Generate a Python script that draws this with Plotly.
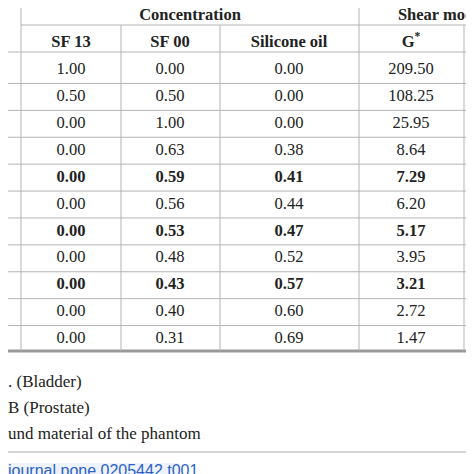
import plotly.graph_objects as go

# table data
columns = ["SF 13", "SF 00", "Silicone oil", "G<sup>*</sup>"]
sf13 = ["1.00", "0.50", "0.00", "0.00", "0.00", "0.00", "0.00", "0.00", "0.00", "0.00", "0.00"]
sf00 = ["0.00", "0.50", "1.00", "0.63", "0.59", "0.56", "0.53", "0.48", "0.43", "0.40", "0.31"]
oil = ["0.00", "0.00", "0.00", "0.38", "0.41", "0.44", "0.47", "0.52", "0.57", "0.60", "0.69"]
g_star = ["209.50", "108.25", "25.95", "8.64", "7.29", "6.20", "5.17", "3.95", "3.21", "2.72", "1.47"]
bold_rows = [4, 6, 8]
footnotes = [". (Bladder)", "B (Prostate)", "und material of the phantom"]
link = "journal.pone.0205442.t001"

SERIF = "Liberation Serif"
GRID = "#b4b4b4"
col_x = [63, 162, 281, 403]
vlines = [13, 113, 212, 351, 456]
row_y0, row_dy = 62, 26.9
table_bottom = 343

fig = go.Figure()
shapes = []


def hline(y, x0=0, x1=474, w=1, c=GRID):
    shapes.append(dict(type="line", x0=x0, x1=x1, y0=y, y1=y, line=dict(color=c, width=w)))


hline(17, x0=13)
hline(44)
for i in range(len(sf13) - 1):
    hline(row_y0 + row_dy * (i + 0.5))
hline(table_bottom, w=3, c="#999999")
hline(444, w=1.2, c="#aaaaaa")
for vx in vlines:
    y0 = 17 if vx in (113, 212, 456) else -5
    shapes.append(dict(type="line", x0=vx, x1=vx, y0=y0, y1=table_bottom,
                       line=dict(color=GRID, width=1)))

font = dict(family=SERIF, size=16.5, color="#222")
fig.add_trace(go.Scatter(x=[182, 428], y=[8, 8], mode="text", text=["<b>Concentration</b>", "<b>Shear mod</b>"],
                         textfont=font, hoverinfo="skip"))
fig.add_trace(go.Scatter(x=col_x, y=[35] * 4, mode="text", text=[f"<b>{c}</b>" for c in columns],
                         textfont=font, hoverinfo="skip"))

for ci, col in enumerate([sf13, sf00, oil, g_star]):
    texts = [f"<b>{v}</b>" if i in bold_rows else v for i, v in enumerate(col)]
    fig.add_trace(go.Scatter(x=[col_x[ci]] * len(col), y=[row_y0 + row_dy * i for i in range(len(col))],
                             mode="text", text=texts, textfont=font, hoverinfo="skip"))

fig.add_trace(go.Scatter(x=[0] * 3, y=[375, 401, 427], mode="text", text=footnotes, textposition="middle right",
                         textfont=dict(family=SERIF, size=17, color="#222"), hoverinfo="skip"))
fig.add_trace(go.Scatter(x=[0], y=[464], mode="text", text=[link], textposition="middle right",
                         textfont=dict(family="Liberation Sans Narrow, Liberation Sans", size=16, color="#2b62c4"),
                         hoverinfo="skip"))
shapes.append(dict(type="rect", x0=0, x1=171, y0=455, y1=474, fillcolor="#eef2fb", line=dict(width=0), layer="below"))

fig.update_layout(width=474, height=474, margin=dict(l=0, r=0, t=0, b=0), showlegend=False,
                  plot_bgcolor="white", paper_bgcolor="white", shapes=shapes,
                  xaxis=dict(range=[0, 474], visible=False, fixedrange=True),
                  yaxis=dict(range=[474, 0], visible=False, fixedrange=True))
fig.write_html("out.html")
